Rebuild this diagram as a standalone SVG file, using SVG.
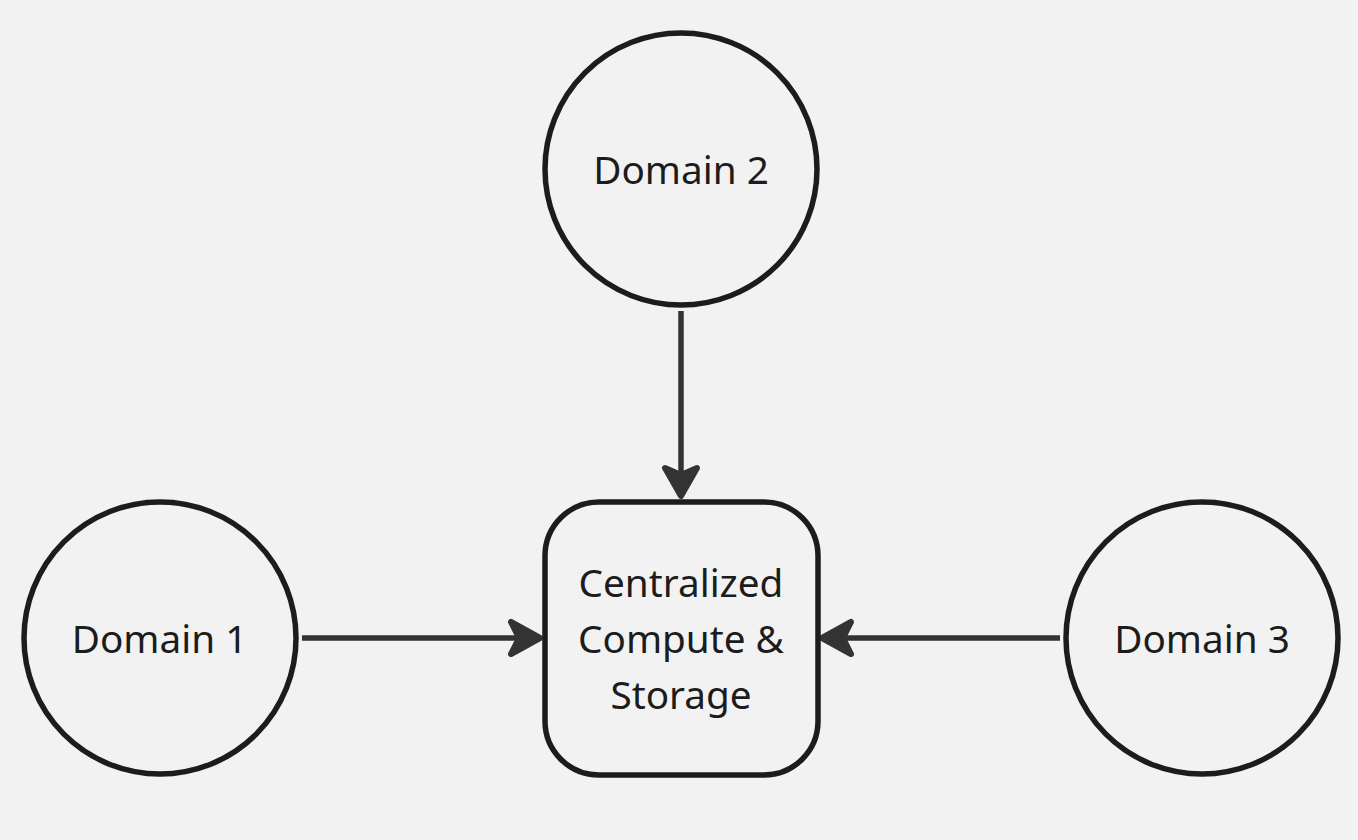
<svg xmlns="http://www.w3.org/2000/svg" width="1358" height="840" viewBox="0 0 1358 840">
<style>
.n{fill:none;stroke:#1c1c1c;stroke-width:5.5}
.t{font-family:"Noto Sans","Open Sans",sans-serif;font-size:38.7px;fill:#1c1c1c;text-anchor:middle}
.c{stroke:#333;stroke-width:5.5;fill:none}
.h{fill:#333;stroke:#333;stroke-width:6;stroke-linejoin:round}
</style>
<rect width="1358" height="840" fill="#f2f2f2"/>
<g id="connectors">
<path class="c" d="M681 311V480"/><path class="h" d="M681 496L665 468L681 475L697 468Z"/>
<path class="c" d="M302 638H525"/><path class="h" d="M540 638L511 622L519 638L511 654Z"/>
<path class="c" d="M1060 638H838"/><path class="h" d="M822 638L851 622L843 638L851 654Z"/>
</g>
<g id="domain2"><circle class="n" cx="681" cy="169" r="136"/><text class="t" x="681" y="184">Domain 2</text></g>
<g id="domain1"><circle class="n" cx="160" cy="638" r="136"/><text class="t" x="159.500" y="653">Domain 1</text></g>
<g id="domain3"><circle class="n" cx="1202" cy="638" r="136"/><text class="t" x="1202" y="653">Domain 3</text></g>
<g id="central"><rect class="n" x="545" y="502" width="273" height="273" rx="54"/>
<text class="t" x="681" y="597">Centralized</text><text class="t" x="681" y="653">Compute &amp;</text><text class="t" x="681" y="709">Storage</text></g>
</svg>
